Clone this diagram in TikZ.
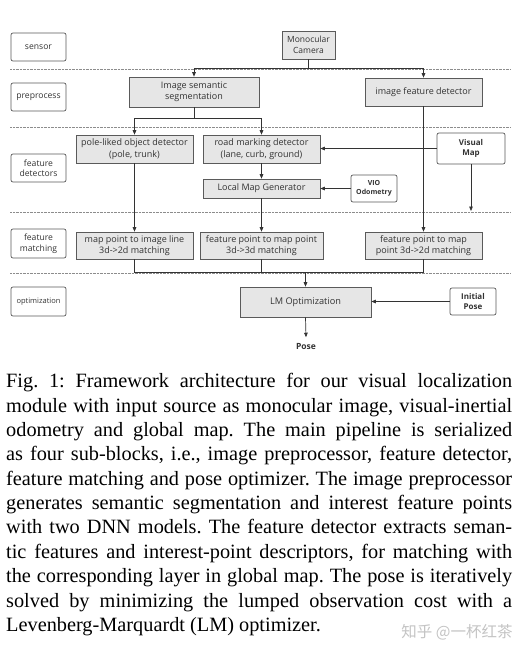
\documentclass[tikz,border=0pt]{standalone}
\usepackage{fontspec}
\setmainfont{Liberation Serif}
\newfontfamily\diagfont{Open Sans}
\newfontfamily\cjkfont{Noto Sans CJK SC}
\usetikzlibrary{arrows.meta}
\definecolor{boxfill}{HTML}{E6E6E6}
\definecolor{boxline}{HTML}{5A5A5A}
\definecolor{txt}{HTML}{333333}
\definecolor{sepcol}{HTML}{8C8C8C}
\definecolor{wmcol}{HTML}{C4C4C4}
\newcommand{\capline}[1]{\noindent\hbox to 506pt{#1}\par}
\newcommand{\capglue}{\spaceskip=0.25em plus 0.6em minus 0.1em\relax\xspaceskip=\spaceskip\parindent=0pt\parskip=0pt\relax}
\frenchspacing
\begin{document}
\begin{tikzpicture}[x=1pt,y=-1pt,
  lab/.style={draw=boxline, rounded corners=2pt, fill=white, minimum width=55pt, line width=0.7pt,
    font=\diagfont\fontsize{8.6}{10.5}\selectfont, text=txt, align=center, inner sep=0pt},
  proc/.style={draw=boxline, fill=boxfill, line width=0.7pt,
    font=\diagfont\fontsize{9}{11.5}\selectfont, text=txt, align=center, inner sep=0pt},
  src/.style={draw=boxline, rounded corners=2pt, fill=white, line width=0.7pt,
    font=\diagfont\bfseries\fontsize{8}{10}\selectfont, text=txt, align=center, inner sep=0pt},
  conn/.style={draw=txt, line width=0.7pt},
  arr/.style={conn, -{Triangle[length=4.5pt,width=3.6pt]}},
  sepline/.style={draw=sepcol, line width=0.6pt, dash pattern=on 0.7pt off 0.7pt}
]
\useasboundingbox (0,0) rectangle (528,654);
\fill[white] (0,0) rectangle (528,654);

% separators
\foreach \yy in {69.3,127,212.7,273.6} \draw[sepline] (10,\yy) -- (511,\yy);

% row labels
\node[lab, minimum height=28pt] (lsensor) at (38.5,47) {sensor};
\node[lab, minimum height=28pt] (lpre) at (38.5,97) {preprocess};
\node[lab, minimum height=28pt] (ldet) at (38.5,168) {feature\\detectors};
\node[lab, minimum height=29pt] (lmatch) at (38.5,243.5) {feature\\matching};
\node[lab, minimum height=29pt, font=\diagfont\fontsize{7.5}{9}\selectfont] (lopt) at (38.5,301.5) {optimization};

% process boxes
\node[proc, minimum width=53pt, minimum height=28pt, font=\diagfont\fontsize{8.5}{11}\selectfont] (cam) at (308.5,45) {Monocular\\Camera};
\node[proc, minimum width=130pt, minimum height=30pt] (seg) at (194,92) {Image semantic\\segmentation};
\node[proc, minimum width=117pt, minimum height=28pt] (ifd) at (423.5,92) {image feature detector};
\node[proc, minimum width=117pt, minimum height=28pt] (pole) at (134.5,149) {pole-liked object detector\\(pole, trunk)};
\node[proc, minimum width=117pt, minimum height=28pt] (road) at (261.5,149) {road marking detector\\(lane, curb, ground)};
\node[proc, minimum width=117pt, minimum height=19pt] (lmg) at (261.5,188.5) {Local Map Generator};
\node[proc, minimum width=117pt, minimum height=27pt] (m1) at (134.5,245.5) {map point to image line\\3d->2d matching};
\node[proc, minimum width=123pt, minimum height=27pt] (m2) at (261.5,245.5) {feature point to map point\\3d->3d matching};
\node[proc, minimum width=117pt, minimum height=27pt] (m3) at (423.5,245.5) {feature point to map\\point 3d->2d matching};
\node[proc, minimum width=131pt, minimum height=30pt, font=\diagfont\fontsize{9.2}{11}\selectfont] (lm) at (305.5,302) {LM Optimization};

% sources
\node[src, minimum width=68pt, minimum height=31pt] (vmap) at (471,148.5) {Visual\\Map};
\node[src, minimum width=46pt, minimum height=27pt, font=\diagfont\bfseries\fontsize{7}{9}\selectfont] (vio) at (374,188.5) {VIO\\Odometry};
\node[src, minimum width=46pt, minimum height=27pt] (ipose) at (473,301.5) {Initial\\Pose};
\node[font=\diagfont\bfseries\fontsize{8.5}{10}\selectfont, text=txt, inner xsep=1pt, inner ysep=6.5pt] (pose) at (306,347) {Pose};

% junctions
\coordinate (j1) at (308.5,68.5);
\coordinate (j2) at (194,118);
\coordinate (ja) at (134.5,272.5);
\coordinate (jb) at (423.5,272.5);
\coordinate (vend) at (471,211);

% connectors
\draw[conn] (cam.south) -- (j1);
\draw[arr] (j1) -| (seg.north);
\draw[arr] (j1) -| (ifd.north);
\draw[conn] (seg.south) -- (j2);
\draw[arr] (j2) -| (pole.north);
\draw[arr] (j2) -| (road.north);
\draw[arr] (pole.south) -- (m1.north);
\draw[arr] (road.south) -- (lmg.north);
\draw[arr] (lmg.south) -- (m2.north);
\draw[arr] (ifd.south) -- (m3.north);
\draw[arr] (vmap.west) -- (vmap.west -| road.east);
\draw[arr] (vmap.south) -- (vend);
\draw[arr] (vio.west) -- (vio.west -| lmg.east);
\draw[conn] (m1.south) -- (ja) -- (jb) -- (m3.south);
\draw[conn] (m2.south) -- (m2.south |- ja);
\draw[arr] (lm.north |- ja) -- (lm.north);
\draw[arr] (ipose.west) -- (ipose.west -| lm.east);
\draw[arr] (lm.south) -- (pose.north);

% caption
\node[anchor=base west, inner sep=0pt, text width=506pt, align=justify, font=\fontsize{20.3}{24.37}\selectfont] (cap) at (6,387.7) {\capglue
\capline{Fig. 1: Framework architecture for our visual localization}%
\capline{module with input source as monocular image, visual-inertial}%
\capline{odometry and global map. The main pipeline is serialized}%
\capline{as four sub-blocks, i.e., image preprocessor, feature detector,}%
\capline{feature matching and pose optimizer. The image preprocessor}%
\capline{generates semantic segmentation and interest feature points}%
\capline{with two DNN models. The feature detector extracts seman-}%
\capline{tic features and interest-point descriptors, for matching with}%
\capline{the corresponding layer in global map. The pose is iteratively}%
\capline{solved by minimizing the lumped observation cost with a}%
\noindent\hbox{Levenberg-Marquardt (LM) optimizer.}\par};

\node[anchor=base east, inner sep=0pt, font=\cjkfont\fontsize{15.5}{15.5}\selectfont, text=wmcol] (wm) at (512.7,637) {知乎 @一杯红茶};
\end{tikzpicture}
\end{document}
